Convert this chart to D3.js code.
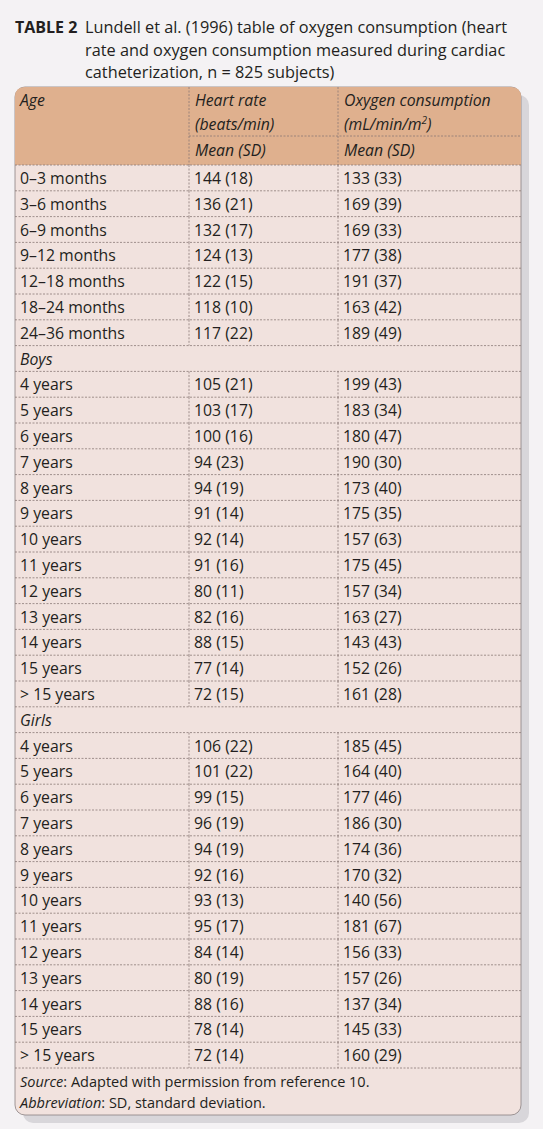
<!DOCTYPE html><html><head><meta charset="utf-8">
<script src="https://cdn.jsdelivr.net/npm/d3@7"></script>
<style>body{margin:0;background:#f4f2f4}</style></head><body>
<script>
const titleLines=["Lundell et al. (1996) table of oxygen consumption (heart","rate and oxygen consumption measured during cardiac","catheterization, n = 825 subjects)"];
const ages=["0–3 months","3–6 months","6–9 months","9–12 months","12–18 months","18–24 months","24–36 months","Boys","4 years","5 years","6 years","7 years","8 years","9 years","10 years","11 years","12 years","13 years","14 years","15 years","> 15 years","Girls","4 years","5 years","6 years","7 years","8 years","9 years","10 years","11 years","12 years","13 years","14 years","15 years","> 15 years"];
const heartRate=["144 (18)","136 (21)","132 (17)","124 (13)","122 (15)","118 (10)","117 (22)","","105 (21)","103 (17)","100 (16)","94 (23)","94 (19)","91 (14)","92 (14)","91 (16)","80 (11)","82 (16)","88 (15)","77 (14)","72 (15)","","106 (22)","101 (22)","99 (15)","96 (19)","94 (19)","92 (16)","93 (13)","95 (17)","84 (14)","80 (19)","88 (16)","78 (14)","72 (14)"];
const oxygen=["133 (33)","169 (39)","169 (33)","177 (38)","191 (37)","163 (42)","189 (49)","","199 (43)","183 (34)","180 (47)","190 (30)","173 (40)","175 (35)","157 (63)","175 (45)","157 (34)","163 (27)","143 (43)","152 (26)","161 (28)","","185 (45)","164 (40)","177 (46)","186 (30)","174 (36)","170 (32)","140 (56)","181 (67)","156 (33)","157 (26)","137 (34)","145 (33)","160 (29)"];
const W=543,H=1129,L=15,R=521,T=87,bodyTop=165,rowH=25.8;
const svg=d3.select("body").append("svg").attr("width",W).attr("height",H).style("font-family","'Open Sans',sans-serif");
const y=d3.scaleBand().domain(d3.range(ages.length)).range([bodyTop,bodyTop+rowH*ages.length]);
const bodyEnd=bodyTop+rowH*ages.length, B=1115;
const colX=[L,189,338,R];
svg.append("text").attr("x",L).attr("y",33).attr("font-size",16).attr("font-weight","bold").attr("fill","#231f20").text("TABLE 2");
titleLines.forEach((s,i)=>svg.append("text").attr("x",85).attr("y",33+i*22.5).attr("font-size",16.3).attr("fill","#231f20").text(s));
svg.append("rect").attr("x",L+8).attr("y",T+8).attr("width",R-L).attr("height",B-T).attr("rx",10).attr("fill","#d8d6da");
svg.append("rect").attr("x",L).attr("y",T).attr("width",R-L).attr("height",B-T).attr("rx",10).attr("fill","#f1e2de").attr("stroke","#8a8080").attr("stroke-width",0.8);
svg.append("path").attr("d",`M${L},${bodyTop}V${T+10}Q${L},${T} ${L+10},${T}H${R-10}Q${R},${T} ${R},${T+10}V${bodyTop}Z`).attr("fill","#dfb08e");
const dash={"stroke":"#8a7a76","stroke-width":0.8,"stroke-dasharray":"2,1.5"};
function line(x1,y1,x2,y2){const l=svg.append("line").attr("x1",x1).attr("y1",y1).attr("x2",x2).attr("y2",y2);Object.entries(dash).forEach(([k,v])=>l.attr(k,v));}
line(colX[1],T,colX[1],bodyTop);line(colX[2],T,colX[2],bodyTop);
line(colX[1],136,R,136);
ages.forEach((a,i)=>{
  const y0=y(i);
  line(L,y0,R,y0);
  const sec=heartRate[i]==="";
  if(!sec){line(colX[1],y0,colX[1],y0+rowH);line(colX[2],y0,colX[2],y0+rowH);}
  const g=svg.append("g").attr("font-size",15.8).attr("fill","#231f20");
  g.append("text").attr("x",L+5).attr("y",y0+19).style("font-style",sec?"italic":"normal").text(a);
  g.append("text").attr("x",colX[1]+5).attr("y",y0+19).text(heartRate[i]);
  g.append("text").attr("x",colX[2]+5).attr("y",y0+19).text(oxygen[i]);
});
line(L,bodyEnd,R,bodyEnd);
const hs=svg.append("g").attr("font-size",15.8).attr("fill","#231f20").style("font-style","italic");
hs.append("text").attr("x",L+5).attr("y",106).text("Age");
hs.append("text").attr("x",colX[1]+6).attr("y",106).text("Heart rate");
hs.append("text").attr("x",colX[1]+6).attr("y",130).text("(beats/min)");
hs.append("text").attr("x",colX[2]+6).attr("y",106).text("Oxygen consumption");
const ox=hs.append("text").attr("x",colX[2]+6).attr("y",130);
ox.append("tspan").text("(mL/min/m");ox.append("tspan").attr("dy",-6).attr("font-size",10).text("2");ox.append("tspan").attr("dy",6).text(")");
hs.append("text").attr("x",colX[1]+6).attr("y",156).text("Mean (SD)");
hs.append("text").attr("x",colX[2]+6).attr("y",156).text("Mean (SD)");
const f1=svg.append("text").attr("x",L+5).attr("y",bodyEnd+19).attr("font-size",14.5).attr("fill","#231f20");
f1.append("tspan").style("font-style","italic").text("Source");f1.append("tspan").text(":  Adapted with permission from reference 10.");
const f2=svg.append("text").attr("x",L+5).attr("y",bodyEnd+40).attr("font-size",14.5).attr("fill","#231f20");
f2.append("tspan").style("font-style","italic").text("Abbreviation");f2.append("tspan").text(": SD, standard deviation.");
</script></body></html>
